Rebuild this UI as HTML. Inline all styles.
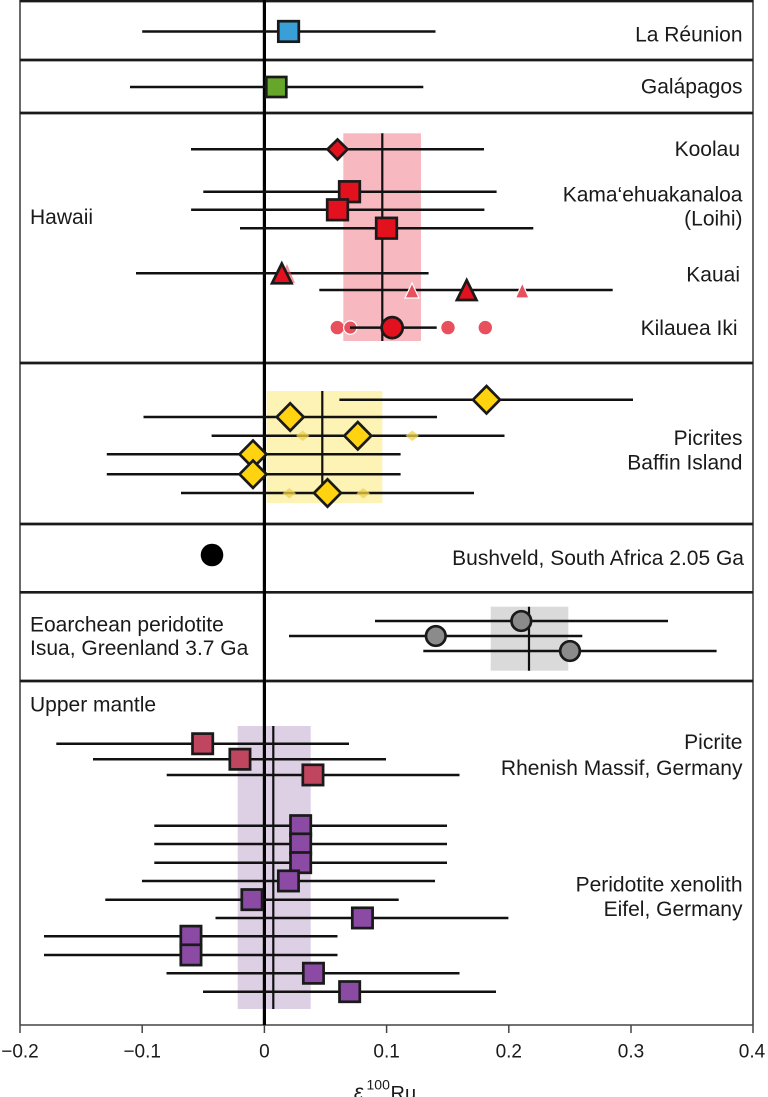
<!DOCTYPE html>
<html>
<head>
<meta charset="utf-8">
<style>
html,body{margin:0;padding:0;background:#fff;}
svg{display:block;}
text{font-family:"Liberation Sans",Arial,sans-serif;fill:#1a1a1a;}
</style>
</head>
<body>
<svg width="768" height="1097" viewBox="0 0 768 1097" xmlns="http://www.w3.org/2000/svg">
<rect x="0" y="0" width="768" height="1097" fill="#fff"/>

<!-- shaded ranges -->
<rect x="343.3" y="133.3" width="77.7" height="207.7" fill="#f7b8bf"/>
<rect x="266.7" y="391" width="115.6" height="112" fill="#fdf3b4"/>
<rect x="490.7" y="606.7" width="77.6" height="64" fill="#dadada"/>
<rect x="237.7" y="726" width="73" height="283" fill="#ddd0e5"/>

<!-- median lines -->
<g stroke="#111" stroke-width="2.2">
<line x1="382.3" y1="133.3" x2="382.3" y2="341"/>
<line x1="322.3" y1="391" x2="322.3" y2="500"/>
<line x1="529" y1="606.7" x2="529" y2="670.7"/>
<line x1="273.3" y1="726" x2="273.3" y2="1009"/>
</g>

<!-- frame -->
<g stroke="#444" stroke-width="1.6">
<line x1="20" y1="0" x2="20" y2="1025"/>
<line x1="753" y1="0" x2="753" y2="1025"/>
<line x1="20" y1="1025" x2="753" y2="1025"/>
</g>
<g stroke="#1a1a1a" stroke-width="2.7">
<line x1="20" y1="1" x2="753" y2="1"/>
<line x1="20" y1="60" x2="753" y2="60"/>
<line x1="20" y1="113" x2="753" y2="113"/>
<line x1="20" y1="363" x2="753" y2="363"/>
<line x1="20" y1="524" x2="753" y2="524"/>
<line x1="20" y1="592.3" x2="753" y2="592.3"/>
<line x1="20" y1="681" x2="753" y2="681"/>
</g>

<!-- ticks -->
<g stroke="#444" stroke-width="1.5">
<line x1="20" y1="1025" x2="20" y2="1033"/>
<line x1="142.2" y1="1025" x2="142.2" y2="1033"/>
<line x1="264.4" y1="1025" x2="264.4" y2="1033"/>
<line x1="386.6" y1="1025" x2="386.6" y2="1033"/>
<line x1="508.8" y1="1025" x2="508.8" y2="1033"/>
<line x1="631" y1="1025" x2="631" y2="1033"/>
<line x1="753" y1="1025" x2="753" y2="1033"/>
</g>

<!-- zero line -->
<line x1="264.4" y1="0" x2="264.4" y2="1025" stroke="#000" stroke-width="3.2"/>

<!-- error bars -->
<g stroke="#111" stroke-width="2.5">
<line x1="142.2" y1="31.5" x2="435.5" y2="31.5"/>
<line x1="130" y1="87" x2="423.3" y2="87"/>
<line x1="191" y1="149.3" x2="484" y2="149.3"/>
<line x1="203.3" y1="191.7" x2="496.6" y2="191.7"/>
<line x1="191.1" y1="209.8" x2="484.4" y2="209.8"/>
<line x1="240" y1="228.2" x2="533.3" y2="228.2"/>
<line x1="136" y1="273.3" x2="428.6" y2="273.3"/>
<line x1="319.3" y1="290" x2="612.7" y2="290"/>
<line x1="339.4" y1="399.7" x2="633" y2="399.7"/>
<line x1="143.5" y1="417" x2="437" y2="417"/>
<line x1="211.6" y1="435.8" x2="504.5" y2="435.8"/>
<line x1="106.8" y1="454.2" x2="400.6" y2="454.2"/>
<line x1="106.8" y1="474.2" x2="400.6" y2="474.2"/>
<line x1="181" y1="493" x2="474" y2="493"/>
<line x1="375" y1="621" x2="668" y2="621"/>
<line x1="289" y1="636" x2="582.3" y2="636"/>
<line x1="423.3" y1="651" x2="716.6" y2="651"/>
<line x1="56.3" y1="743.8" x2="349" y2="743.8"/>
<line x1="93" y1="759.3" x2="386" y2="759.3"/>
<line x1="166.7" y1="775" x2="459.5" y2="775"/>
<line x1="154.3" y1="825.7" x2="447" y2="825.7"/>
<line x1="154.3" y1="844" x2="447" y2="844"/>
<line x1="154.3" y1="862.7" x2="447" y2="862.7"/>
<line x1="142" y1="881" x2="435" y2="881"/>
<line x1="105.3" y1="899.7" x2="398.7" y2="899.7"/>
<line x1="215.5" y1="918" x2="508.4" y2="918"/>
<line x1="44" y1="936.3" x2="337.5" y2="936.3"/>
<line x1="44" y1="955" x2="337.5" y2="955"/>
<line x1="166.5" y1="973.3" x2="459.5" y2="973.3"/>
<line x1="203" y1="991.7" x2="496" y2="991.7"/>
</g>

<!-- small faint markers -->
<g fill="#e8505e">
<circle cx="337.3" cy="327.6" r="6.7"/>
<polygon points="287,264 279,283 295,283" opacity="0.6"/>
</g>
<g fill="#e8505e" stroke="#fff" stroke-width="1.2">
<circle cx="350.3" cy="327.6" r="6.7"/>
<circle cx="448" cy="327.6" r="6.7" stroke="none"/>
<circle cx="485.3" cy="327.6" r="6.7" stroke="none"/>
<polygon points="412,283 405,298 419,298"/>
<polygon points="522.3,283 515.5,298 529,298"/>
</g>
<line x1="350" y1="327.6" x2="436.7" y2="327.6" stroke="#111" stroke-width="2.5"/>
<g fill="#efd24a" opacity="0.75">
<polygon points="302.7,430.5 309.5,435.8 302.7,441 296,435.8"/>
<polygon points="412.3,430.5 419,435.8 412.3,441 405.5,435.8"/>
<polygon points="289.3,488 296,493.3 289.3,498.5 282.5,493.3"/>
<polygon points="363.3,488 370,493.3 363.3,498.5 356.5,493.3"/>
</g>

<!-- main markers -->
<g stroke="#1a1a1a" stroke-width="2.7" stroke-linejoin="miter">
<rect x="278.3" y="21.2" width="20.5" height="20.5" fill="#3a9fd6"/>
<rect x="266.3" y="77" width="20" height="20" fill="#66a62b"/>

<polygon points="337.5,139.5 347.5,149.3 337.5,159.5 327.5,149.3" fill="#e3101e"/>
<rect x="339.2" y="181.4" width="20.6" height="20.6" fill="#e3101e"/>
<rect x="327.2" y="199.5" width="20.6" height="20.6" fill="#e3101e"/>
<rect x="376.2" y="217.9" width="20.6" height="20.6" fill="#e3101e"/>
<polygon points="281.8,263.5 272,283.3 291.6,283.3" fill="#e3101e"/>
<polygon points="466.7,280.2 456.9,300 476.5,300" fill="#e3101e"/>
<circle cx="392.2" cy="327.6" r="10.5" fill="#e3101e"/>

<polygon points="486.5,386 500,399.7 486.5,413.4 473,399.7" fill="#ffd30f"/>
<polygon points="290.2,403.3 303.7,417 290.2,430.7 276.7,417" fill="#ffd30f"/>
<polygon points="357.8,422.1 371.3,435.8 357.8,449.5 344.3,435.8" fill="#ffd30f"/>
<polygon points="253,440.5 266.5,454.2 253,467.9 239.5,454.2" fill="#ffd30f"/>
<polygon points="253,460.5 266.5,474.2 253,487.9 239.5,474.2" fill="#ffd30f"/>
<polygon points="327.5,479.3 341,493 327.5,506.7 314,493" fill="#ffd30f"/>

<circle cx="521.3" cy="621" r="9.8" fill="#8b8b8b"/>
<circle cx="435.8" cy="636" r="9.8" fill="#8b8b8b"/>
<circle cx="570" cy="651" r="9.8" fill="#8b8b8b"/>

<rect x="192.5" y="733.6" width="20.3" height="20.3" fill="#c0455e"/>
<rect x="229.8" y="749.1" width="20.3" height="20.3" fill="#c0455e"/>
<rect x="302.8" y="764.8" width="20.3" height="20.3" fill="#c0455e"/>

<rect x="290.5" y="815.5" width="20.3" height="20.3" fill="#8b4ba5"/>
<rect x="290.5" y="833.8" width="20.3" height="20.3" fill="#8b4ba5"/>
<rect x="290.5" y="852.5" width="20.3" height="20.3" fill="#8b4ba5"/>
<rect x="278.3" y="870.8" width="20.3" height="20.3" fill="#8b4ba5"/>
<rect x="241.8" y="889.5" width="20.3" height="20.3" fill="#8b4ba5"/>
<rect x="352.3" y="907.8" width="20.3" height="20.3" fill="#8b4ba5"/>
<rect x="180.8" y="926.1" width="20.3" height="20.3" fill="#8b4ba5"/>
<rect x="180.8" y="944.8" width="20.3" height="20.3" fill="#8b4ba5"/>
<rect x="303.3" y="963.1" width="20.3" height="20.3" fill="#8b4ba5"/>
<rect x="339.5" y="981.5" width="20.3" height="20.3" fill="#8b4ba5"/>
</g>
<circle cx="212" cy="555" r="11.3" fill="#000"/>

<!-- labels -->
<g font-size="21" text-anchor="end">
<text x="742.5" y="41.5">La Réunion</text>
<text x="742.5" y="93.5">Galápagos</text>
<text x="740" y="156">Koolau</text>
<text x="742.5" y="201.7">Kama‘ehuakanaloa</text>
<text x="742.5" y="225.5">(Loihi)</text>
<text x="740" y="281.7">Kauai</text>
<text x="737.5" y="335">Kilauea Iki</text>
<text x="742.5" y="445">Picrites</text>
<text x="742.5" y="469.3">Baffin Island</text>
<text x="744" y="565">Bushveld, South Africa 2.05 Ga</text>
<text x="742.5" y="749">Picrite</text>
<text x="742.5" y="775">Rhenish Massif, Germany</text>
<text x="742.5" y="891.7">Peridotite xenolith</text>
<text x="742.5" y="916">Eifel, Germany</text>
</g>
<g font-size="21">
<text x="30" y="224">Hawaii</text>
<text x="30" y="631.7">Eoarchean peridotite</text>
<text x="30" y="655">Isua, Greenland 3.7 Ga</text>
<text x="30" y="711.7">Upper mantle</text>
</g>

<!-- tick labels -->
<g font-size="19" text-anchor="middle">
<text x="20" y="1057.5">−0.2</text>
<text x="142.2" y="1057.5">−0.1</text>
<text x="264.4" y="1057.5">0</text>
<text x="386.6" y="1057.5">0.1</text>
<text x="508.8" y="1057.5">0.2</text>
<text x="631" y="1057.5">0.3</text>
<text x="752" y="1057.5">0.4</text>
</g>

<!-- axis label -->
<text x="354" y="1099" font-family="Liberation Serif, serif" font-style="italic" font-size="21">ε</text>
<text x="366.5" y="1089.5" font-size="14">100</text>
<text x="390.5" y="1100" font-size="20">Ru</text>
</svg>
</body>
</html>
